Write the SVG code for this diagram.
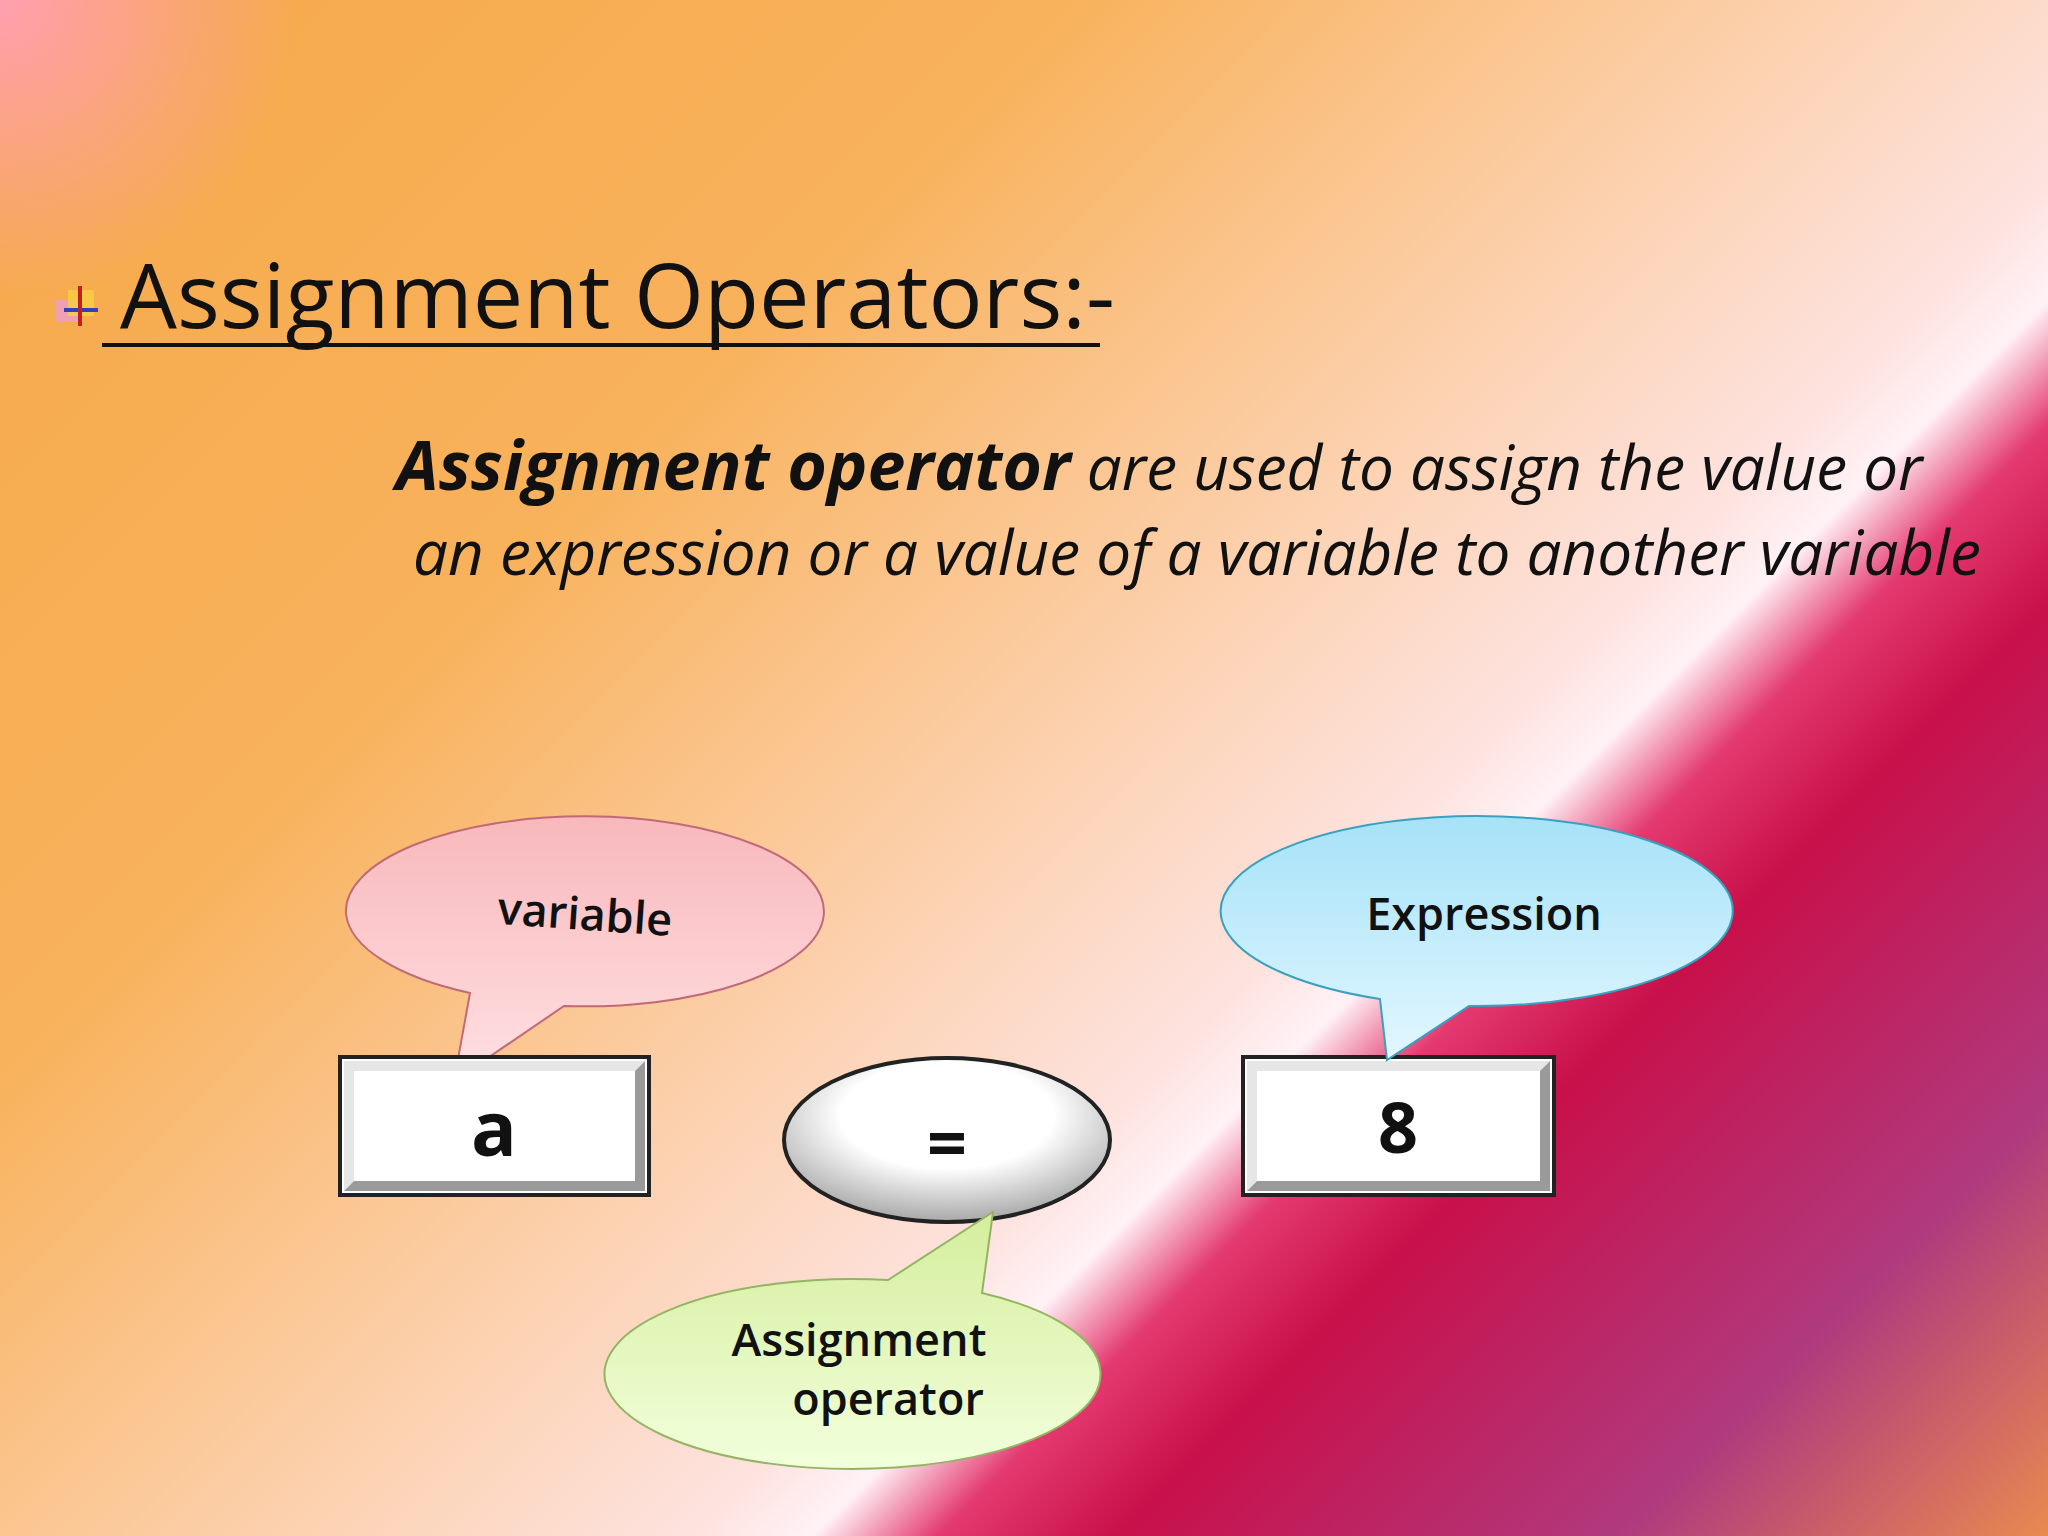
<svg xmlns="http://www.w3.org/2000/svg" width="2048" height="1536" viewBox="0 0 2048 1536">
<defs>
<linearGradient id="bg" gradientUnits="userSpaceOnUse" x1="0" y1="0" x2="1792" y2="1792">
<stop offset="0" stop-color="#f6a848"/>
<stop offset="0.3" stop-color="#f8b25c"/>
<stop offset="0.5" stop-color="#fcd0ac"/>
<stop offset="0.62" stop-color="#fde2de"/>
<stop offset="0.655" stop-color="#fff2f6"/>
<stop offset="0.69" stop-color="#e43a70"/>
<stop offset="0.74" stop-color="#c8104a"/>
<stop offset="0.88" stop-color="#b03a7e"/>
<stop offset="1" stop-color="#e88a50"/>
</linearGradient>
<radialGradient id="pinkc" cx="0" cy="0" r="1" gradientUnits="userSpaceOnUse" gradientTransform="translate(0 0) scale(300)"><stop offset="0" stop-color="#ff9fb0"/><stop offset="1" stop-color="#ff9fb0" stop-opacity="0"/></radialGradient>
<linearGradient id="gp" x1="0" y1="0" x2="0" y2="1"><stop offset="0" stop-color="#f8b8bc"/><stop offset="1" stop-color="#ffe0e2"/></linearGradient>
<linearGradient id="gb" x1="0" y1="0" x2="0" y2="1"><stop offset="0" stop-color="#a6e2f8"/><stop offset="1" stop-color="#e2f7ff"/></linearGradient>
<linearGradient id="gg" x1="0" y1="0" x2="0" y2="1"><stop offset="0" stop-color="#d4ee9c"/><stop offset="1" stop-color="#f2ffdc"/></linearGradient>
<radialGradient id="ge" cx="0.5" cy="0.35" r="0.65"><stop offset="0.5" stop-color="#ffffff"/><stop offset="1" stop-color="#a8a8a8"/></radialGradient>
<style>
.t{font-family:"Open Sans","Liberation Sans",sans-serif;fill:#111}
.lbl{font-family:"Open Sans","Liberation Sans",sans-serif;font-size:45px;font-weight:600;fill:#111;text-anchor:middle}
.box{fill:#fff;stroke:#222;stroke-width:4}
</style>
</defs>
<rect width="2048" height="1536" fill="url(#bg)"/>
<rect width="2048" height="1536" fill="url(#pinkc)"/>
<g id="title">
<rect x="56" y="300" width="22" height="22" fill="#f0a0b0"/>
<rect x="68" y="290" width="26" height="26" fill="#f8d040" opacity="0.8"/>
<rect x="64" y="308" width="34" height="4" fill="#3040c0"/>
<rect x="78" y="286" width="4" height="40" fill="#c02020"/>
<text class="t" x="120" y="328" font-size="90">Assignment Operators:-</text>
<rect x="102" y="343" width="998" height="4" fill="#111"/>
</g>
<g id="desc">
<text class="t" x="396" y="490" font-size="62" font-style="italic"><tspan font-weight="bold" font-size="68">Assignment operator</tspan> are used to assign the value or</text>
<text class="t" x="413" y="575" font-size="62" font-style="italic">an expression or a value of a variable to another variable</text>
</g>
<g id="callout-variable">
<path d="M346 914 A239 95 0 1 1 564 1006 L454 1081 L470 993 A239 95 0 0 1 346 914 Z" fill="url(#gp)" stroke="#c06a78" stroke-width="2"/>
<text class="lbl" x="585" y="930" transform="rotate(4 585 915)">variable</text>
</g>
<g id="box-a">
<rect class="box" x="340" y="1057" width="309" height="138"/>
<path d="M344 1061 H645 L635 1071 H354 V1181 L344 1191 Z" fill="#e6e6e6"/>
<path d="M645 1061 V1191 H344 L354 1181 H635 V1071 Z" fill="#9a9a9a"/>
<text x="494" y="1156" font-family="'Open Sans','Liberation Sans',sans-serif" font-size="76" font-weight="bold" text-anchor="middle" fill="#111">a</text>
</g>
<g id="op-eq">
<ellipse cx="947" cy="1140" rx="163" ry="82" fill="url(#ge)" stroke="#222" stroke-width="4"/>
<text x="947" y="1168" font-family="'Open Sans','Liberation Sans',sans-serif" font-size="70" font-weight="bold" text-anchor="middle" fill="#111">=</text>
</g>
<g id="box-8">
<rect class="box" x="1243" y="1057" width="311" height="138"/>
<path d="M1247 1061 H1550 L1540 1071 H1257 V1181 L1247 1191 Z" fill="#e6e6e6"/>
<path d="M1550 1061 V1191 H1247 L1257 1181 H1540 V1071 Z" fill="#9a9a9a"/>
<text x="1398" y="1153" font-family="'Open Sans','Liberation Sans',sans-serif" font-size="70" font-weight="bold" text-anchor="middle" fill="#111">8</text>
</g>
<g id="callout-expression">
<path d="M1380 999 A256 95 0 1 1 1469 1006 L1387 1060 Z" fill="url(#gb)" stroke="#3aa0c0" stroke-width="2"/>
<text class="lbl" x="1484" y="930">Expression</text>
</g>
<g id="callout-assignment">
<path d="M982 1293 A248 95 0 1 1 888 1280 L993 1212 Z" fill="url(#gg)" stroke="#94b464" stroke-width="2"/>
<text class="lbl" x="859" y="1356">Assignment</text>
<text class="lbl" x="888" y="1415">operator</text>
</g>
<g id="connectors"/>
</svg>
